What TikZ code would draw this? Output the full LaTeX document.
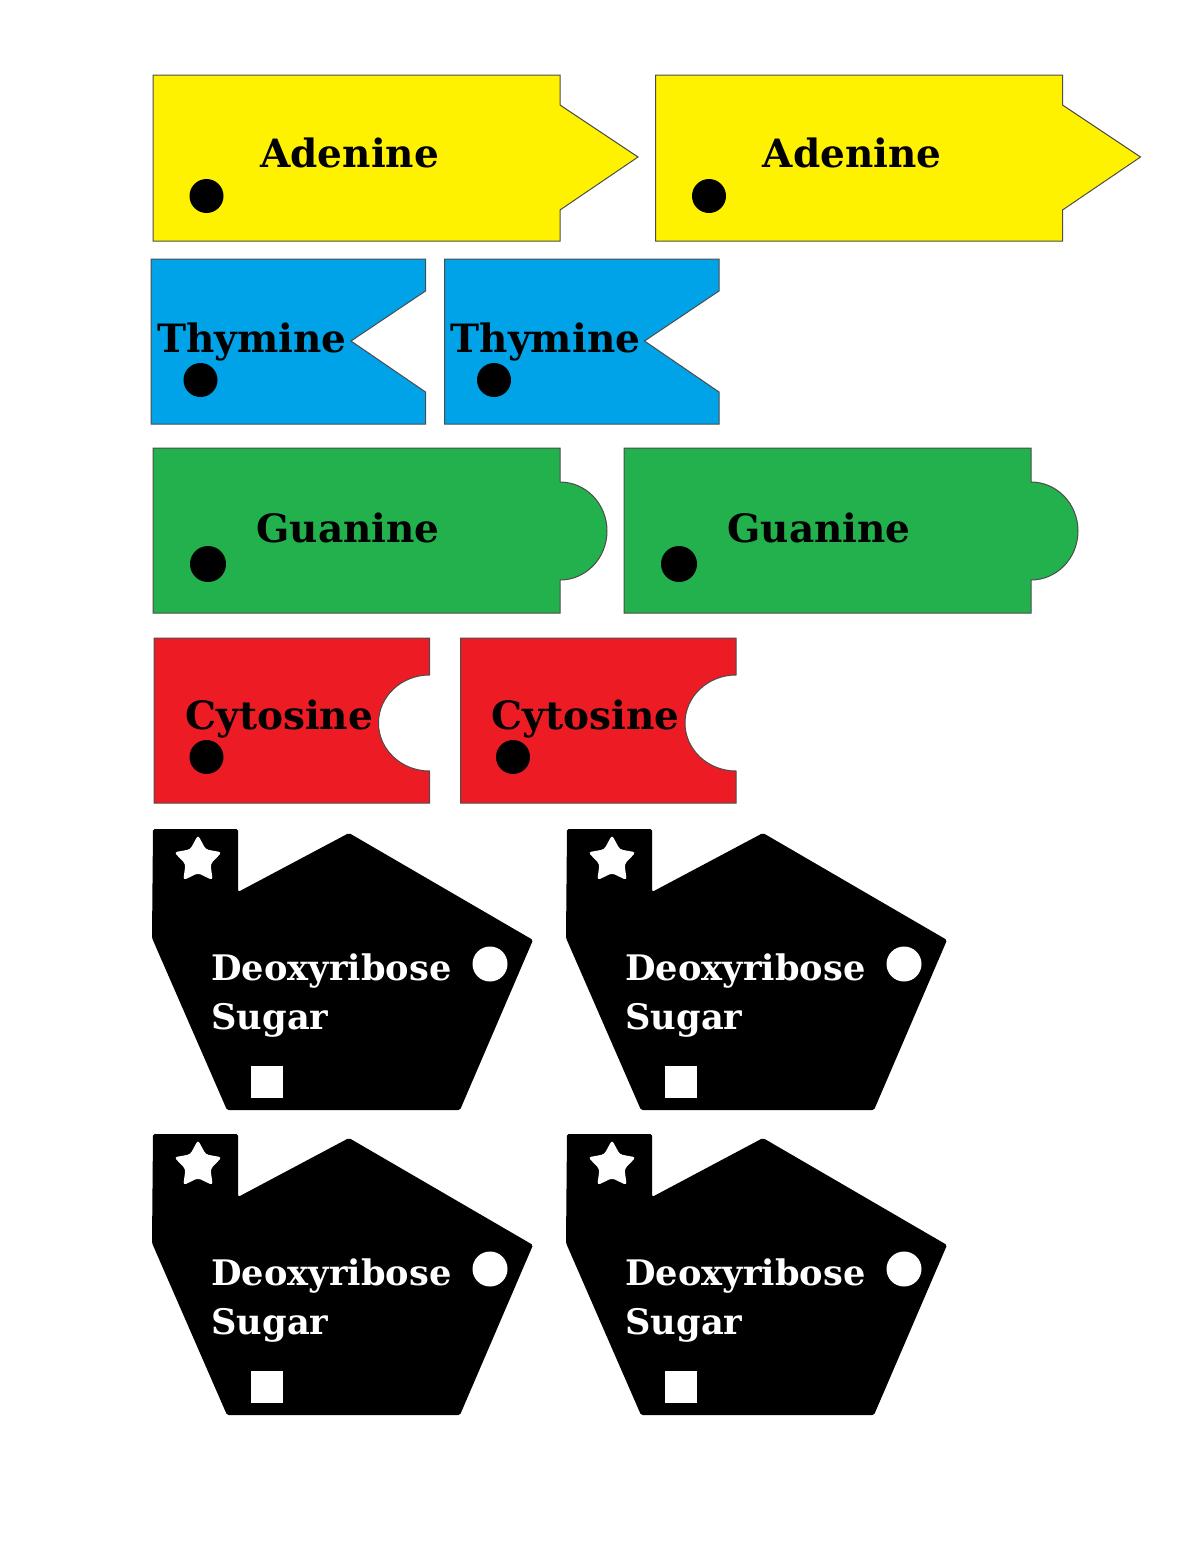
\documentclass[tikz,border=0pt]{standalone}
\usepackage{fontspec}
\setmainfont{DejaVu Serif}
\usetikzlibrary{shapes.geometric}
\definecolor{adeninecol}{RGB}{255,242,0}
\definecolor{thyminecol}{RGB}{0,162,232}
\definecolor{guaninecol}{RGB}{34,177,76}
\definecolor{cytosinecol}{RGB}{237,28,36}
\tikzset{
  piece/.style={draw=black!70,line width=0.5pt},
  basetext/.style={font=\fontsize{19.5}{24}\bfseries\selectfont,inner sep=0pt,anchor=base west},
  sugartext/.style={basetext,font=\fontsize{17.6}{24}\bfseries\selectfont,text=white},
  hole/.style={fill=black,circle,inner sep=0pt,minimum size=17pt},
}
\newcommand{\adenine}[1]{%
  \begin{scope}[shift={#1}]
    \draw[piece,fill=adeninecol] (153,75) -- (560,75) -- (560,105) -- (638,157) -- (560,210) -- (560,241) -- (153,241) -- cycle ;
    \node[hole] (adot) at (206.5,196) {} ;
    \node[basetext] (alabel) at (260,167) {Adenine} ;
  \end{scope}}
\newcommand{\thymine}[1]{%
  \begin{scope}[shift={#1}]
    \draw[piece,fill=thyminecol] (151,259) -- (425.5,259) -- (425.5,291) -- (351,341) -- (425.5,392) -- (425.5,424) -- (151,424) -- cycle ;
    \node[hole] (tdot) at (200.5,380) {} ;
    \node[basetext] (tlabel) at (157,352) {Thymine} ;
  \end{scope}}
\newcommand{\guanine}[1]{%
  \begin{scope}[shift={#1}]
    \draw[piece,fill=guaninecol] (153,448) -- (560,448) -- (560,482) arc (-90:90:47 and 49) -- (560,613) -- (153,613) -- cycle ;
    \node[hole,minimum size=18pt] (gdot) at (208,564) {} ;
    \node[basetext] (glabel) at (256,542) {Guanine} ;
  \end{scope}}
\newcommand{\cytosine}[1]{%
  \begin{scope}[shift={#1}]
    \draw[piece,fill=cytosinecol] (154,638) -- (429.5,638) -- (429.5,675) arc (-90:-270:51 and 48) -- (429.5,803) -- (154,803) -- cycle ;
    \node[hole] (cdot) at (206.5,757) {} ;
    \node[basetext] (clabel) at (185,729) {Cytosine} ;
  \end{scope}}
\newcommand{\sugar}[1]{%
  \begin{scope}[shift={#1}]
    \fill[rounded corners=0.8pt] (153,829) -- (238,829) -- (238,892) -- (349,833) -- (533,940) -- (460,1110) -- (227,1110) -- (152,938) -- cycle ;
    \node[star,star points=5,star point ratio=1.9,fill=white,rounded corners=1.5pt,inner sep=0pt,minimum size=25pt] (sstar) at (198,860) {} ;
    \node[fill=white,circle,inner sep=0pt,minimum size=17.5pt] (sround) at (490,964) {} ;
    \node[fill=white,inner sep=0pt,minimum size=16pt] (ssquare) at (267,1082) {} ;
    \node[sugartext] (sname) at (211,980) {Deoxyribose} ;
    \node[sugartext] (ssub) at (211,1029) {Sugar} ;
  \end{scope}}
\begin{document}
\begin{tikzpicture}[x=0.5pt,y=-0.5pt]
  \useasboundingbox (0,0) rectangle (1200,1553) ;
  \adenine{(0,0)}
  \adenine{(502.5,0)}
  \thymine{(0,0)}
  \thymine{(293.5,0)}
  \guanine{(0,0)}
  \guanine{(471,0)}
  \cytosine{(0,0)}
  \cytosine{(306.5,0)}
  \sugar{(0,0)}
  \sugar{(414,0)}
  \sugar{(0,305)}
  \sugar{(414,305)}
\end{tikzpicture}
\end{document}
